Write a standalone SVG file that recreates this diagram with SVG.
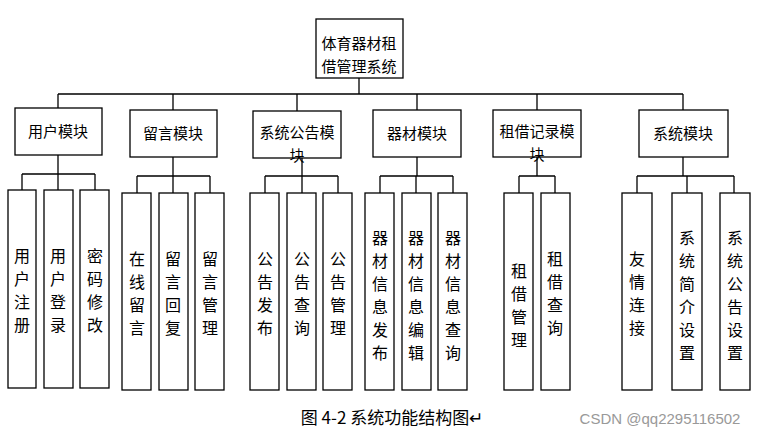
<svg xmlns="http://www.w3.org/2000/svg" width="772" height="438" viewBox="0 0 772 438">
<style>
rect{fill:#fff;stroke:#000;stroke-width:1.3}
.c line,.c path{stroke:#000;stroke-width:1.3;fill:none}
text{font-family:"Noto Sans CJK SC","Liberation Serif",serif;fill:#000;text-anchor:middle}
.m{font-size:15px}
.l{font-size:16px}
</style>
<rect x="0" y="0" width="772" height="438" style="fill:#fff;stroke:none"/>
<g class="c">
<path d="M359 78V94M58 94H683M58 94V108M173 94V110M297 94V111M417 94V110M537 94V110M683 94V110"/>
<path d="M58 155V174M22 174H95M22 174V190M58 174V190M95 174V190"/>
<path d="M173 157V176M137 176H210M137 176V193M173 176V193M210 176V193"/>
<path d="M302 158V176M265 176H338M265 176V193M302 176V193M338 176V193"/>
<path d="M417 157V176M380 176H453M380 176V193M416 176V193M453 176V193"/>
<path d="M537 157V176M519 176H555M519 176V193M555 176V193"/>
<path d="M683 157V176M637 176H734M637 176V193M687 176V193M734 176V193"/>
</g>
<g id="root"><rect x="316" y="19" width="87" height="59"/><text class="m" x="359" y="49">体育器材租</text><text class="m" x="359" y="72">借管理系统</text></g>
<g id="m1"><rect x="15" y="108" width="87" height="47"/><text class="m" x="58" y="137">用户模块</text></g>
<g id="m2"><rect x="130" y="110" width="87" height="47"/><text class="m" x="173" y="139">留言模块</text></g>
<g id="m3"><rect x="253" y="111" width="88" height="47"/><text class="m" x="297" y="138">系统公告模</text><text class="m" x="297" y="161">块</text></g>
<g id="m4"><rect x="373" y="110" width="88" height="47"/><text class="m" x="417" y="139">器材模块</text></g>
<g id="m5"><rect x="493" y="110" width="88" height="47"/><text class="m" x="537" y="137">租借记录模</text><text class="m" x="537" y="160">块</text></g>
<g id="m6"><rect x="639" y="110" width="89" height="47"/><text class="m" x="683" y="139">系统模块</text></g>
<g id="l1"><rect x="8" y="190" width="28" height="198"/><text class="l" x="22"><tspan x="22" y="262">用</tspan><tspan x="22" y="285">户</tspan><tspan x="22" y="308">注</tspan><tspan x="22" y="331">册</tspan></text></g>
<g id="l2"><rect x="44" y="190" width="29" height="198"/><text class="l"><tspan x="58" y="262">用</tspan><tspan x="58" y="285">户</tspan><tspan x="58" y="308">登</tspan><tspan x="58" y="331">录</tspan></text></g>
<g id="l3"><rect x="80" y="190" width="29" height="198"/><text class="l"><tspan x="95" y="262">密</tspan><tspan x="95" y="285">码</tspan><tspan x="95" y="308">修</tspan><tspan x="95" y="331">改</tspan></text></g>
<g id="l4"><rect x="122" y="193" width="29" height="197"/><text class="l"><tspan x="137" y="265">在</tspan><tspan x="137" y="288">线</tspan><tspan x="137" y="311">留</tspan><tspan x="137" y="334">言</tspan></text></g>
<g id="l5"><rect x="159" y="193" width="29" height="197"/><text class="l"><tspan x="173" y="265">留</tspan><tspan x="173" y="288">言</tspan><tspan x="173" y="311">回</tspan><tspan x="173" y="334">复</tspan></text></g>
<g id="l6"><rect x="195" y="193" width="29" height="197"/><text class="l"><tspan x="210" y="265">留</tspan><tspan x="210" y="288">言</tspan><tspan x="210" y="311">管</tspan><tspan x="210" y="334">理</tspan></text></g>
<g id="l7"><rect x="250" y="193" width="29" height="197"/><text class="l"><tspan x="265" y="265">公</tspan><tspan x="265" y="288">告</tspan><tspan x="265" y="311">发</tspan><tspan x="265" y="334">布</tspan></text></g>
<g id="l8"><rect x="287" y="193" width="29" height="197"/><text class="l"><tspan x="302" y="265">公</tspan><tspan x="302" y="288">告</tspan><tspan x="302" y="311">查</tspan><tspan x="302" y="334">询</tspan></text></g>
<g id="l9"><rect x="323" y="193" width="29" height="197"/><text class="l"><tspan x="338" y="265">公</tspan><tspan x="338" y="288">告</tspan><tspan x="338" y="311">管</tspan><tspan x="338" y="334">理</tspan></text></g>
<g id="l10"><rect x="365" y="193" width="29" height="197"/><text class="l"><tspan x="380" y="244">器</tspan><tspan x="380" y="267">材</tspan><tspan x="380" y="290">信</tspan><tspan x="380" y="313">息</tspan><tspan x="380" y="336">发</tspan><tspan x="380" y="359">布</tspan></text></g>
<g id="l11"><rect x="402" y="193" width="29" height="197"/><text class="l"><tspan x="416" y="244">器</tspan><tspan x="416" y="267">材</tspan><tspan x="416" y="290">信</tspan><tspan x="416" y="313">息</tspan><tspan x="416" y="336">编</tspan><tspan x="416" y="359">辑</tspan></text></g>
<g id="l12"><rect x="438" y="193" width="29" height="197"/><text class="l"><tspan x="453" y="244">器</tspan><tspan x="453" y="267">材</tspan><tspan x="453" y="290">信</tspan><tspan x="453" y="313">息</tspan><tspan x="453" y="336">查</tspan><tspan x="453" y="359">询</tspan></text></g>
<g id="l13"><rect x="504" y="193" width="29" height="197"/><text class="l"><tspan x="519" y="277">租</tspan><tspan x="519" y="300">借</tspan><tspan x="519" y="323">管</tspan><tspan x="519" y="346">理</tspan></text></g>
<g id="l14"><rect x="541" y="193" width="29" height="197"/><text class="l"><tspan x="555" y="265">租</tspan><tspan x="555" y="288">借</tspan><tspan x="555" y="311">查</tspan><tspan x="555" y="334">询</tspan></text></g>
<g id="l15"><rect x="622" y="193" width="30" height="197"/><text class="l"><tspan x="637" y="265">友</tspan><tspan x="637" y="288">情</tspan><tspan x="637" y="311">连</tspan><tspan x="637" y="334">接</tspan></text></g>
<g id="l16"><rect x="672" y="193" width="30" height="197"/><text class="l"><tspan x="687" y="244">系</tspan><tspan x="687" y="267">统</tspan><tspan x="687" y="290">简</tspan><tspan x="687" y="313">介</tspan><tspan x="687" y="336">设</tspan><tspan x="687" y="359">置</tspan></text></g>
<g id="l17"><rect x="720" y="193" width="30" height="197"/><text class="l"><tspan x="735" y="244">系</tspan><tspan x="735" y="267">统</tspan><tspan x="735" y="290">公</tspan><tspan x="735" y="313">告</tspan><tspan x="735" y="336">设</tspan><tspan x="735" y="359">置</tspan></text></g>
<text x="392" y="424" style="font-size:17px">图 4-2 系统功能结构图↵</text>
<text x="660" y="424" style="font-size:15px;fill:#999;font-family:'Liberation Sans','Noto Sans',sans-serif">CSDN @qq2295116502</text>
</svg>
